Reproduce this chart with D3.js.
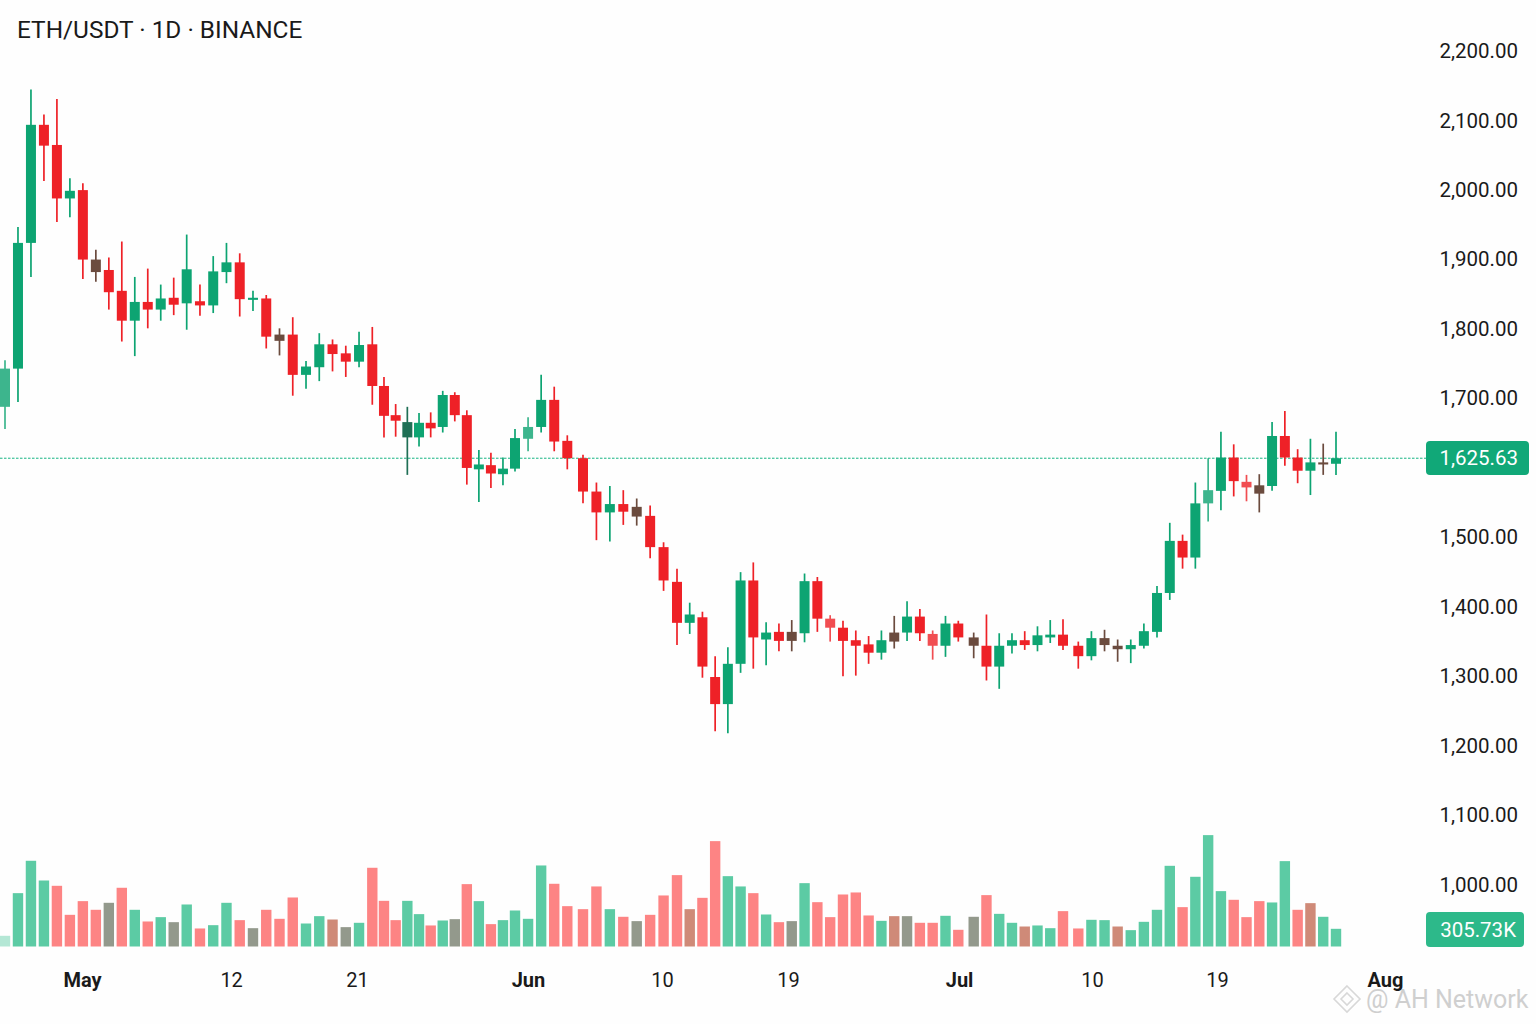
<!DOCTYPE html>
<html>

<head>
	<title>ETH/USDT 1D</title>
	<meta http-equiv="Content-Type" content="text/html; charset=UTF-8">
	<style>
		html,
		body {
			margin: 0px;
			padding: 0px;
			background: #fefefe;
		}

		svg {
			display: block;
			font-family: Roboto, Arial, sans-serif;
		}
	</style>
	<script src="https://cdn.jsdelivr.net/npm/d3@7"></script>
</head>

<body>

	<div id="chart"></div>

	<script>
		const title = "ETH/USDT · 1D · BINANCE";
		const lastPriceLabel = "1,625.63";
		const lastVolumeLabel = "305.73K";

		// daily candles
		const opens = [1687, 1742, 1923, 2093, 2064, 1987, 1999, 1899, 1884, 1854, 1811, 1838, 1827, 1844, 1836, 1839, 1833, 1881, 1895, 1841, 1843, 1791, 1791, 1733, 1744, 1777, 1764, 1752, 1777,
			1717, 1675, 1643, 1643, 1664, 1658, 1704, 1675, 1597, 1603, 1590, 1598, 1641, 1658, 1697, 1638, 1613, 1565, 1535, 1547, 1543, 1530, 1485, 1435, 1376, 1384, 1298, 1259, 1317, 1437,
			1352, 1363, 1363, 1361, 1436, 1382, 1369, 1351, 1345, 1333, 1362, 1362, 1385, 1360, 1343, 1375, 1355, 1343, 1313, 1343, 1351, 1344, 1355, 1359, 1343, 1328, 1354, 1343, 1338, 1343, 1363,
			1419, 1494, 1470, 1548, 1566, 1614, 1579, 1574, 1573, 1645, 1614, 1595, 1607, 1605];
		const highs = [1754, 1946, 2144, 2108, 2130, 2016, 2009, 1913, 1902, 1925, 1874, 1886, 1863, 1873, 1935, 1863, 1904, 1923, 1908, 1854, 1848, 1800, 1816, 1753, 1793, 1784, 1775, 1795, 1802,
			1730, 1691, 1687, 1678, 1679, 1710, 1708, 1682, 1625, 1621, 1614, 1655, 1672, 1733, 1716, 1646, 1618, 1578, 1573, 1567, 1555, 1545, 1492, 1454, 1405, 1392, 1328, 1341, 1449, 1463,
			1377, 1375, 1380, 1447, 1442, 1387, 1379, 1365, 1357, 1365, 1386, 1407, 1396, 1365, 1386, 1379, 1362, 1388, 1361, 1361, 1364, 1371, 1380, 1381, 1349, 1364, 1366, 1352, 1352, 1375, 1429,
			1520, 1503, 1578, 1613, 1651, 1633, 1589, 1590, 1665, 1681, 1626, 1641, 1634, 1651];
		const lows = [1655, 1694, 1874, 2012, 1953, 1960, 1871, 1867, 1827, 1781, 1760, 1800, 1811, 1819, 1798, 1818, 1822, 1865, 1817, 1825, 1771, 1761, 1703, 1713, 1724, 1738, 1730, 1744, 1690,
			1643, 1644, 1589, 1630, 1643, 1650, 1666, 1575, 1550, 1570, 1574, 1594, 1623, 1650, 1623, 1597, 1548, 1495, 1493, 1517, 1516, 1469, 1422, 1344, 1360, 1297, 1220, 1217, 1304, 1310,
			1315, 1335, 1335, 1348, 1363, 1349, 1299, 1300, 1317, 1323, 1339, 1350, 1350, 1323, 1327, 1349, 1325, 1293, 1281, 1332, 1337, 1335, 1347, 1337, 1310, 1322, 1335, 1320, 1318, 1339, 1355,
			1409, 1454, 1454, 1522, 1538, 1558, 1551, 1535, 1566, 1602, 1577, 1560, 1589, 1589];
		const closes = [1742, 1923, 2093, 2063, 1987, 1998, 1899, 1881, 1852, 1811, 1838, 1827, 1843, 1834, 1885, 1833, 1882, 1895, 1842, 1844, 1788, 1782, 1733, 1745, 1777, 1763, 1752, 1776, 1717,
			1674, 1667, 1665, 1664, 1656, 1704, 1675, 1599, 1604, 1591, 1598, 1642, 1658, 1697, 1637, 1613, 1565, 1535, 1547, 1536, 1529, 1485, 1437, 1376, 1388, 1313, 1259, 1317, 1437, 1355,
			1362, 1350, 1350, 1436, 1382, 1369, 1350, 1343, 1333, 1351, 1349, 1385, 1361, 1343, 1375, 1355, 1343, 1313, 1343, 1351, 1344, 1358, 1359, 1343, 1328, 1354, 1344, 1338, 1344, 1364, 1419,
			1494, 1470, 1548, 1567, 1614, 1580, 1571, 1562, 1645, 1614, 1595, 1607, 1604, 1613];

		// volume in thousands, sides: u up, d down, b brownish, m the muddy grey bars
		const volumes = [185, 923, 1483, 1142, 1050, 548, 785, 635, 756, 1016, 635, 433, 508, 421, 727, 312, 369, 756, 456, 317, 635, 479, 848, 398, 525, 467, 335, 410, 1362,
			790, 456, 790, 560, 364, 450, 473, 1079, 785, 387, 456, 623, 479, 1402, 1085, 698, 646, 1039, 646, 514, 439, 548, 883, 1235, 646, 842, 1823, 1217, 1039, 923,
			554, 421, 439, 1096, 767, 508, 900, 935, 537, 444, 525, 525, 410, 410, 531, 289, 514, 889, 565, 410, 346, 364, 317, 612, 312, 462, 456, 346, 283, 427, 635,
			1396, 681, 1206, 1927, 958, 808, 508, 785, 762, 1477, 635, 750, 514, 306];
		const volumeSides = [
			"u", "u", "u", "u", "d", "d", "d", "d", "m", "d", "u", "d", "u", "m", "u", "d", "u", "u", "d", "m", "d", "d", "d", "u", "u", "b", "m", "u", "d",
			"d", "d", "u", "u", "d", "u", "m", "d", "u", "d", "u", "u", "u", "u", "d", "d", "d", "d", "u", "d", "m", "d", "d", "d", "b", "d", "d", "u", "u", "d",
			"u", "d", "m", "u", "d", "d", "d", "d", "d", "u", "b", "m", "d", "d", "u", "d", "m", "d", "u", "u", "b", "u", "u", "d", "d", "u", "u", "b", "u", "u", "u",
			"u", "d", "u", "u", "u", "d", "d", "d", "u", "u", "d", "b", "u", "u"
		];

		const priceTicks = [2200, 2100, 2000, 1900, 1800, 1700, 1500, 1400, 1300, 1200, 1100, 1000];
		const dateLabels = ["May", "12", "21", "Jun", "10", "19", "Jul", "10", "19", "Aug"];
		const dateDays = [5.93, 17.35, 26.84, 40.99, 50.88, 60.71, 74.05, 84.04, 93.69, 106.83];

		// candles that came out brown or washed out in the picture
		const mutedCandles = [7, 21, 31, 49, 61, 69, 75, 85, 86, 97, 102];
		const fadedCandles = [0, 41, 64, 72, 93, 96];

		const UP = "#0da472", DOWN = "#ee2127";
		const VOL_COLORS = { u: "#5ccba4", d: "#fd8484", b: "#cf8a78", m: "#93998c" };

		const width = 1536, height = 1024;

		const svg = d3.select("#chart").append("svg")
			.attr("width", width)
			.attr("height", height)
			.attr("viewBox", [0, 0, width, height]);

		svg.append("rect").attr("width", width).attr("height", height).attr("fill", "#fefefe");

		// the spacing is not quite even across the picture, so the day scale has a few knots
		const x = d3.scaleLinear()
			.domain([0, 14, 28, 33, 40, 44, 45, 52, 58, 74, 75, 82, 83, 89, 103])
			.range([5, 186.7, 372.3, 430.7, 515, 567.3, 583, 677, 753.3, 958.3, 973.7, 1063, 1078.3, 1157, 1336]);
		const y = d3.scaleLinear().domain([1000, 2200]).range([884, 50.5]);
		const v = d3.scaleLinear().domain([0, 1000]).range([946.5, 888.7]);

		const fmt = d3.format(",.2f");

		// price axis
		const priceAxis = svg.append("g")
			.attr("transform", "translate(1518,0.5)")
			.call(d3.axisRight(y).tickValues(priceTicks).tickSize(0).tickPadding(0).tickFormat(fmt));
		priceAxis.select(".domain").remove();
		priceAxis.selectAll("text")
			.attr("text-anchor", "end")
			.attr("font-family", "Roboto")
			.attr("font-size", 20.5)
			.attr("fill", "#1a1a1a");

		// date axis
		const dateAxis = svg.append("g")
			.attr("transform", "translate(0,980)")
			.call(d3.axisBottom(x)
				.tickValues(dateDays)
				.tickSize(0)
				.tickPadding(0)
				.tickFormat((d, i) => dateLabels[i]));
		dateAxis.select(".domain").remove();
		dateAxis.selectAll("text")
			.attr("dy", "0.36em")
			.attr("y", 0)
			.attr("font-family", "Roboto")
			.attr("font-size", 20)
			.attr("font-weight", (d, i) => isNaN(+dateLabels[i]) ? 700 : 400)
			.attr("fill", "#1a1a1a");

		// volume bars
		svg.append("g").selectAll("rect")
			.data(volumes)
			.join("rect")
			.attr("x", (d, i) => x(i) - 5.2)
			.attr("width", 10.4)
			.attr("y", d => v(d))
			.attr("height", d => v(0) - v(d))
			.attr("fill", (d, i) => VOL_COLORS[volumeSides[i]])
			.attr("opacity", (d, i) => i == 0 ? 0.45 : 1);

		// last price line
		const lastClose = closes[closes.length - 1];
		svg.append("line")
			.attr("x1", 0)
			.attr("x2", 1426)
			.attr("y1", y(lastClose))
			.attr("y2", y(lastClose))
			.attr("stroke", "#16b583")
			.attr("stroke-width", 1)
			.attr("stroke-dasharray", "2.5,1.5");

		function candleColor(i) {
			const up = closes[i] >= opens[i];
			if (mutedCandles.includes(i)) return up ? "#1f6f55" : "#6b4b3e";
			return up ? UP : DOWN;
		}

		const candles = svg.append("g").selectAll("g")
			.data(opens)
			.join("g")
			.attr("opacity", (d, i) => fadedCandles.includes(i) ? 0.8 : 1);

		candles.append("line")
			.attr("x1", (d, i) => x(i))
			.attr("x2", (d, i) => x(i))
			.attr("y1", (d, i) => y(highs[i]))
			.attr("y2", (d, i) => y(lows[i]))
			.attr("stroke", (d, i) => candleColor(i))
			.attr("stroke-width", 1.7);

		candles.append("rect")
			.attr("x", (d, i) => x(i) - 5)
			.attr("width", 10)
			.attr("y", (d, i) => y(Math.max(opens[i], closes[i])))
			.attr("height", (d, i) => Math.max(1.5, Math.abs(y(opens[i]) - y(closes[i]))))
			.attr("fill", (d, i) => candleColor(i));

		// title
		svg.append("text")
			.attr("x", 17)
			.attr("y", 38)
			.attr("font-family", "Roboto")
			.attr("font-size", 24.4)
			.attr("fill", "#1a1a1a")
			.text(title);

		// price and volume tags
		function tag(x0, y0, w, h, fill, label, right) {
			svg.append("rect")
				.attr("x", x0).attr("y", y0)
				.attr("width", w).attr("height", h)
				.attr("rx", 4)
				.attr("fill", fill);
			svg.append("text")
				.attr("x", right)
				.attr("y", y0 + h / 2)
				.attr("dy", "0.36em")
				.attr("text-anchor", "end")
				.attr("font-family", "Roboto")
				.attr("font-size", 20.5)
				.attr("fill", "#ffffff")
				.text(label);
		}
		tag(1426, 441, 103, 34, "#11a878", lastPriceLabel, 1518);
		tag(1426, 912, 98, 35, "#2db98a", lastVolumeLabel, 1516);

		// watermark
		const mark = svg.append("g").attr("transform", "translate(1347,999)")
			.attr("fill", "none").attr("stroke", "#d8d8d8").attr("stroke-width", 1.6);
		mark.append("path").attr("d", "M0,-13 L13,0 L0,13 L-13,0 Z");
		mark.append("path").attr("d", "M0,-6 L6,0 L0,6 L-6,0 Z");
		svg.append("text")
			.attr("x", 1366)
			.attr("y", 1008)
			.attr("font-family", "Roboto")
			.attr("font-size", 25)
			.attr("fill", "#cfcfcf")
			.text("@ AH Network");
	</script>

</body>

</html>
